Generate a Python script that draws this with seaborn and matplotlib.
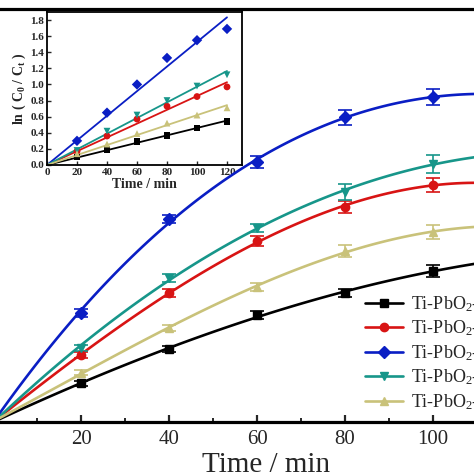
import numpy as np
import pandas as pd
import matplotlib
matplotlib.use("Agg")
import matplotlib.pyplot as plt
from matplotlib.lines import Line2D
import seaborn as sns

# ---------------- data ----------------
time_main = [0, 20, 40, 60, 80, 100]
removal_black = [0, 9.4, 17.7, 25.9, 31.2, 36.6]
removal_red = [0, 16.2, 31.2, 43.8, 52.1, 57.4]
removal_blue = [0, 26.4, 49.2, 63.0, 73.8, 78.7]
removal_teal = [0, 17.9, 34.9, 47.0, 55.7, 62.5]
removal_khaki = [0, 11.9, 22.8, 32.7, 41.4, 46.0]
err_black = [0, 0.6, 0.7, 0.9, 1.0, 1.5]
err_red = [0, 0.8, 1.0, 1.2, 1.5, 1.8]
err_blue = [0, 1.0, 1.0, 1.5, 1.8, 2.0]
err_teal = [0, 0.8, 1.0, 1.0, 2.0, 2.2]
err_khaki = [0, 0.6, 0.8, 1.0, 1.5, 1.6]

time_inset = [20, 40, 60, 80, 100, 120]
ln_black = [0.10, 0.19, 0.29, 0.37, 0.46, 0.54]
ln_red = [0.17, 0.36, 0.57, 0.73, 0.85, 0.97]
ln_blue = [0.30, 0.65, 1.00, 1.33, 1.55, 1.69]
ln_teal = [0.18, 0.42, 0.62, 0.80, 0.98, 1.12]
ln_khaki = [0.14, 0.26, 0.39, 0.52, 0.62, 0.71]

labels = ["Ti-PbO$_2$-", "Ti-PbO$_2$-", "Ti-PbO$_2$-", "Ti-PbO$_2$-", "Ti-PbO$_2$-"]
xticks_main = [20, 40, 60, 80, 100]
xticks_inset = [0, 20, 40, 60, 80, 100, 120]
yticks_inset = [0.0, 0.2, 0.4, 0.6, 0.8, 1.0, 1.2, 1.4, 1.6, 1.8]

colors = ["#000000", "#d81414", "#0a1ec4", "#17968a", "#c9c27a"]
markers = ["s", "o", "D", "v", "^"]
main_sets = [removal_black, removal_red, removal_blue, removal_teal, removal_khaki]
err_sets = [err_black, err_red, err_blue, err_teal, err_khaki]
ln_sets = [ln_black, ln_red, ln_blue, ln_teal, ln_khaki]

# ---------------- style ----------------
sns.set_theme(style="white")
plt.rcParams["font.family"] = ["Liberation Serif", "DejaVu Serif"]
plt.rcParams["mathtext.fontset"] = "custom"
plt.rcParams["mathtext.rm"] = "Liberation Serif"
plt.rcParams["mathtext.it"] = "Liberation Serif:italic"
plt.rcParams["mathtext.bf"] = "Liberation Serif:bold"

W = 474.0
fig = plt.figure(figsize=(4.74, 4.74), dpi=100)
fig.patch.set_facecolor("white")

# main axes (partly outside the canvas, as in the cropped reference)
ax = fig.add_axes([-7 / W, (W - 422) / W, 528 / W, 413 / W])
ax.set_zorder(2)
ax.patch.set_alpha(0)
ax.set_xlim(0, 120)
ax.set_ylim(0, 100)

for vals, errs, c, m in zip(main_sets, err_sets, colors, markers):
    df = pd.DataFrame({"t": time_main, "r": vals})
    sns.regplot(data=df, x="t", y="r", order=3, ci=None, scatter=False,
                truncate=False, color=c, line_kws={"lw": 1.9}, ax=ax)
    ms = 6.3 if m == "D" else 6.0
    ax.errorbar(time_main, vals, yerr=errs, fmt=m, color=c, ms=ms,
                capsize=5, elinewidth=1.2, capthick=1.2, linestyle="none", zorder=3)

ax.set_xlim(0, 120)
ax.set_ylim(0, 100)
for s in ["top", "bottom"]:
    ax.spines[s].set_linewidth(2.3)
    ax.spines[s].set_color("black")
ax.spines["left"].set_visible(False)
ax.spines["right"].set_visible(False)
ax.set_xticks(xticks_main)
ax.set_xticks([10, 30, 50, 70, 90, 110], minor=True)
ax.set_yticks([])
ax.tick_params(axis="x", which="major", direction="in", length=5, width=1.6,
               labelsize=15, pad=6, bottom=True, top=False)
ax.tick_params(axis="x", which="minor", direction="in", length=3, width=1.4,
               bottom=True, top=False)
ax.set_xlabel("Time / min", fontsize=21)
ax.xaxis.set_label_coords(273 / 528, -30 / 413, transform=ax.transAxes)
ax.xaxis.label.set_va("top")
ax.set_ylabel("")

# legend
handles = [Line2D([0], [0], color=c, marker=m, lw=1.9, ms=(6.3 if m == "D" else 6.0))
           for c, m in zip(colors, markers)]
fig.legend(handles, labels, loc="upper left", bbox_to_anchor=(365 / W, (W - 294) / W),
           frameon=False, fontsize=13, handlelength=2.1, handletextpad=0.45,
           labelspacing=0.27, borderpad=0, borderaxespad=0)

# inset axes
axin = fig.add_axes([47 / W, (W - 165) / W, 195 / W, 153 / W])
axin.set_zorder(1)
axin.set_facecolor("white")
axin.set_xlim(0, 130)
axin.set_ylim(0, 1.9)
t_inset = np.array(time_inset, dtype=float)
for ln, c, m in zip(ln_sets, colors, markers):
    lnv = np.array(ln, dtype=float)
    k = float(np.sum(t_inset * lnv) / np.sum(t_inset ** 2))  # fit through origin
    tt = np.array([0.0, 120.0])
    fit = pd.DataFrame({"t": tt, "y": k * tt})
    sns.lineplot(data=fit, x="t", y="y", color=c, lw=1.3, ax=axin, legend=False)
    sns.scatterplot(x=time_inset, y=ln, marker=m, color=c, s=(28 if m == "D" else 24),
                    edgecolor="none", ax=axin, legend=False, zorder=3)
for s in axin.spines.values():
    s.set_linewidth(1.3)
    s.set_color("black")
axin.set_xticks(xticks_inset)
axin.set_yticks(yticks_inset)
axin.set_yticklabels([f"{v:.1f}" for v in yticks_inset])
axin.tick_params(direction="in", length=3, width=1.0, labelsize=8, pad=2,
                 bottom=True, left=True, top=False, right=False)
for lab in axin.get_xticklabels() + axin.get_yticklabels():
    lab.set_fontweight("bold")
axin.set_xlabel("Time / min", fontsize=10, fontweight="bold", labelpad=1)
axin.set_ylabel(r"ln ( C$_\mathbf{0}$ / C$_\mathbf{t}$ )", fontsize=10,
                fontweight="bold", labelpad=2)

fig.savefig("out.png", dpi=100)
